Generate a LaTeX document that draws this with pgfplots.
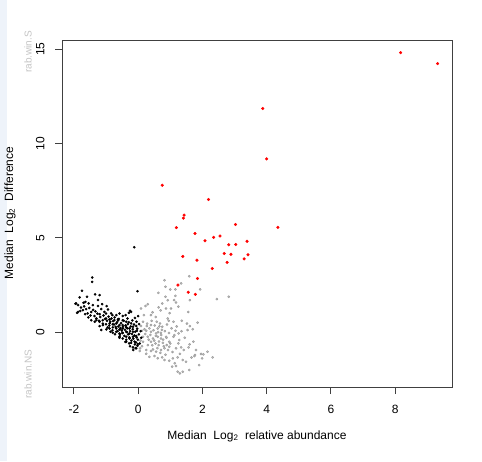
\documentclass[border=0pt]{standalone}
\usepackage{fontspec}
\setmainfont{Liberation Sans}
\usepackage{pgfplots}
\pgfplotsset{compat=1.18}
\definecolor{stripblue}{HTML}{EEF3FA}
\definecolor{lab}{HTML}{C4C4C4}
\definecolor{ptgray}{HTML}{9A9A9A}
\definecolor{ptgrayfill}{HTML}{BDBDBD}
\begin{document}
\begin{tikzpicture}[x=1pt,y=1pt]
\useasboundingbox (0,0) rectangle (482,461);
\fill[white] (0,0) rectangle (482,461);
\fill[stripblue] (0,0) rectangle (7,461);
\begin{axis}[at={(62pt,74pt)}, anchor=south west, scale only axis,
  width=390pt, height=347pt,
  xmin=-2.37, xmax=9.77, ymin=-2.91, ymax=15.48,
  xtick={-2,0,2,4,6,8}, ytick={0,5,10,15},
  tick align=outside, tick pos=left, major tick length=7pt,
  tick style={black!75, line width=0.8pt},
  axis line style={black!75, line width=0.8pt},
  ticklabel style={font=\fontsize{12}{14}\selectfont},
  /pgf/number format/assume math mode=true,
  yticklabel style={rotate=90, anchor=south},
  xticklabel style={anchor=north},
  xticklabel shift=8pt, yticklabel shift=7pt,
]
% grey (non-significant, positive abundance)
\addplot[only marks, mark=*, mark size=1.1pt, draw=ptgray, fill=ptgrayfill, line width=0.4pt] coordinates {
(1.59,2.96) (0.82,2.75) (1.34,2.58) (0.85,2.40) (1.00,2.26) (1.16,2.26) (1.93,2.26) (0.63,2.08)
(1.16,1.92) (0.85,1.87) (0.92,1.69) (1.61,1.69) (2.45,1.75) (2.82,1.87) (1.18,1.57) (0.75,1.52)
(0.30,1.48) (0.23,1.38) (0.09,1.25) (0.64,1.31) (0.87,1.25) (1.02,1.25) (1.56,1.07) (0.40,0.90)
(0.92,0.72) (0.95,0.60) (1.10,0.55) (1.36,0.60) (1.61,0.32) (0.27,0.32) (0.40,0.37) (0.68,0.46)
(0.75,0.28) (0.61,0.19) (0.09,0.32) (0.12,0.07) (0.25,0.07) (0.40,0.02) (0.56,-0.07) (0.71,-0.04)
(1.16,0.07) (1.26,-0.07) (1.54,0.11) (0.15,-0.25) (0.30,-0.25) (0.46,-0.34) (0.61,-0.25) (0.71,-0.34)
(0.87,-0.25) (0.97,-0.51) (1.13,-0.16) (1.28,-0.42) (0.15,-0.51) (0.30,-0.69) (0.40,-0.51) (0.54,-0.60)
(0.64,-0.69) (0.77,-0.57) (0.89,-0.69) (1.72,-0.51) (0.25,-0.95) (0.46,-0.92) (0.56,-1.04) (0.71,-0.95)
(0.82,-0.86) (0.97,-0.78) (1.18,-0.86) (1.34,-0.81) (1.57,-0.81) (0.35,-1.31) (0.51,-1.27) (0.61,-1.39)
(0.75,-1.34) (0.82,-1.48) (0.97,-1.52) (1.08,-1.39) (1.23,-1.34) (1.39,-1.48) (1.49,-1.57) (1.75,-1.27)
(1.96,-1.16) (1.99,-1.39) (2.16,-1.04) (2.32,-1.34) (1.06,-1.83) (1.18,-1.80) (1.23,-2.10) (1.30,-2.19)
(1.39,-2.10) (1.59,-2.01) (1.90,-1.75) (2.03,-1.18) (1.77,-1.22) (0.06,-0.86)
(0.20,0.15) (0.22,-0.10) (0.28,0.45) (0.33,-0.40) (0.35,0.20) (0.38,-0.15) (0.42,0.60) (0.44,-0.70)
(0.48,0.10) (0.50,-0.45) (0.52,0.35) (0.55,-0.20) (0.58,0.55) (0.60,-0.85) (0.62,0.00) (0.65,-0.50)
(0.66,0.30) (0.69,-1.10) (0.72,-0.15) (0.74,0.12) (0.78,-0.40) (0.80,-0.75) (0.83,0.05) (0.85,-1.20)
(0.88,-0.30) (0.90,0.40) (0.93,-0.95) (0.96,-0.05) (1.00,-0.60) (1.04,0.20) (1.07,-1.05) (1.10,-0.25)
(1.14,-1.65) (1.20,0.30) (1.25,-0.60) (1.30,-1.15) (1.35,0.05) (1.42,-0.95) (1.45,-0.30) (1.52,0.45)
(1.60,-0.65) (1.66,-1.35) (1.70,0.15) (1.80,-0.95) (1.85,0.50) (0.15,0.55) (0.12,-0.75) (0.07,-0.45)
(0.18,0.90) (0.45,1.05) (0.55,0.80) (0.70,1.15) (0.98,1.00) (1.25,1.35) (1.12,1.70) (0.05,-1.00)
(0.25,-1.15) (0.40,-1.00)
};
% black (non-significant, negative abundance)
\addplot[only marks, mark=*, mark size=1.1pt, black] coordinates {
(-1.43,2.89) (-1.43,2.66) (-1.75,2.19) (-1.34,2.00) (-1.20,1.96) (-1.59,1.87) (-1.82,1.84) (-0.02,2.17)
(-0.12,4.50) (-1.93,1.52) (-1.87,1.43) (-1.64,1.60) (-1.54,1.52) (-1.41,1.43) (-1.25,1.38) (-1.12,1.48)
(-1.95,1.50) (-1.90,1.02) (-1.87,1.07) (-1.72,1.16) (-1.57,0.99) (-1.46,1.07) (-1.46,0.63) (-1.36,0.85)
(-1.20,0.95) (-1.05,1.07) (-0.94,1.20) (-0.84,0.99) (-0.68,0.90) (-0.58,0.99) (-0.39,0.90) (-0.29,1.02)
(-0.22,1.07) (-0.25,1.13) (-1.30,0.63) (-1.20,0.55) (-1.10,0.63) (-1.00,0.72) (-0.89,0.67) (-0.74,0.63)
(-0.63,0.67) (-0.48,0.63) (-0.37,0.55) (-1.20,0.32) (-1.10,0.37) (-1.00,0.42) (-0.89,0.46) (-0.79,0.42)
(-0.68,0.46) (-0.58,0.37) (-0.48,0.37) (-0.32,0.42) (-0.22,0.46) (-1.15,0.11) (-0.99,0.14) (-0.89,0.19)
(-0.79,0.25) (-0.68,0.19) (-0.58,0.14) (-0.48,0.19) (-0.37,0.25) (-0.27,0.19) (-0.16,0.28) (-0.06,0.32)
(-0.79,-0.04) (-0.68,0.02) (-0.58,-0.07) (-0.48,-0.04) (-0.37,0.02) (-0.27,-0.07) (-0.16,0.02) (-0.04,0.07)
(-0.58,-0.25) (-0.48,-0.34) (-0.37,-0.25) (-0.27,-0.34) (-0.16,-0.25) (-0.06,-0.21) (-0.37,-0.51) (-0.22,-0.57)
(-0.11,-0.51) (-0.01,-0.63) (-0.16,-0.81) (-0.06,-0.86)
(-1.78,1.30) (-1.68,1.36) (-1.62,1.22) (-1.52,1.28) (-1.48,0.88) (-1.40,1.18) (-1.33,1.10) (-1.30,0.72)
(-1.27,0.98) (-1.18,0.80) (-1.15,1.22) (-1.08,0.88) (-1.03,0.70) (-1.00,0.98) (-0.97,0.60) (-0.92,0.82)
(-0.90,0.35) (-0.87,0.55) (-0.83,0.72) (-0.80,0.10) (-0.78,0.58) (-0.75,0.40) (-0.73,0.78) (-0.70,0.28)
(-0.66,0.52) (-0.64,0.05) (-0.62,0.30) (-0.60,0.70) (-0.57,-0.15) (-0.55,0.22) (-0.53,0.48) (-0.51,0.08)
(-0.49,-0.05) (-0.47,0.28) (-0.45,0.60) (-0.43,-0.20) (-0.41,0.12) (-0.39,0.35) (-0.37,-0.40) (-0.35,0.00)
(-0.33,0.20) (-0.31,-0.12) (-0.29,0.52) (-0.27,-0.28) (-0.25,0.05) (-0.23,0.30) (-0.21,-0.45) (-0.19,-0.10)
(-0.17,0.15) (-0.15,-0.35) (-0.13,0.40) (-0.11,-0.18) (-0.09,0.02) (-0.07,-0.55) (-0.05,-0.28) (-0.03,0.18)
(-0.01,-0.40) (0.02,-0.12) (0.05,-0.60) (0.08,0.05) (0.10,-0.30) (-0.02,-0.72) (-0.10,-0.65) (-0.28,-0.60)
(-0.40,-0.52) (-0.58,-0.30) (-0.72,-0.12) (-0.86,0.02) (-0.95,0.25) (-1.10,0.45) (-1.22,0.60) (-1.35,0.55)
(-1.55,0.78) (-1.65,0.95) (-1.80,1.12) (-0.18,0.62) (-0.10,0.75) (-0.05,0.55) (0.00,0.85) (0.03,0.42)
(-0.33,0.72) (-0.48,0.85) (-0.62,0.62) (-0.80,0.90) (-0.98,1.38) (-1.25,1.70) (-1.70,1.55) (-0.15,-0.95)
(-0.08,-0.85) (-0.25,-0.75)
};
% red (significant)
\addplot[only marks, mark=*, mark size=1.35pt, draw=red, fill=red] coordinates {
(8.17,14.81) (9.32,14.23) (3.88,11.85) (4.00,9.18) (0.75,7.78) (2.19,7.03) (1.43,6.20) (1.41,6.04)
(1.19,5.54) (3.03,5.70) (4.35,5.55) (1.77,5.22) (2.35,5.02) (2.55,5.09) (2.08,4.84) (3.39,4.81)
(2.82,4.63) (3.04,4.64) (1.39,4.01) (2.68,4.17) (2.89,4.12) (3.42,4.10) (3.30,3.88) (1.83,3.81)
(2.77,3.69) (2.31,3.37) (1.85,2.84) (1.24,2.49) (1.56,2.11) (1.78,2.00)
};
\end{axis}
\node[font=\fontsize{12}{14}\selectfont] at (257,25) {Median\ \ Log\textsubscript{2}\ \ relative abundance};
\node[font=\fontsize{12}{14}\selectfont, rotate=90] at (10,248) {Median\ \ Log\textsubscript{2}\ \ Difference};
\node[font=\fontsize{10}{12}\selectfont, rotate=90, text=lab] at (28,409) {rab.win.S};
\node[font=\fontsize{10}{12}\selectfont, rotate=90, text=lab] at (28,87) {rab.win.NS};
\end{tikzpicture}
\end{document}
